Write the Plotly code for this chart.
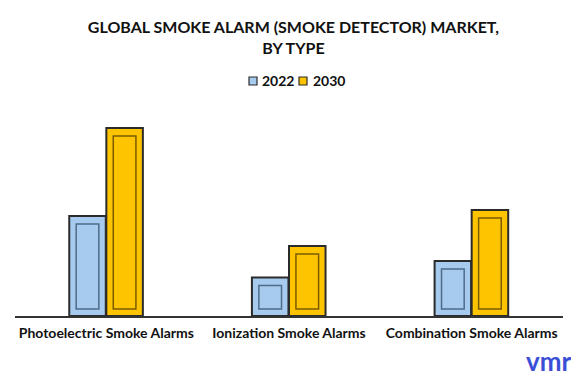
import plotly.graph_objects as go

categories = ["Photoelectric Smoke Alarms", "Ionization Smoke Alarms", "Combination Smoke Alarms"]
years = ["2022", "2030"]
values_2022 = [100, 38.5, 55]
values_2030 = [188, 70, 106]

# The page body has an 8px default margin, so the figure is sized to fit the window.
W, H = 571, 371
ML, MR, MT, MB = 7, 16, 97, 63
PW, PH = W - ML - MR, H - MT - MB

BAR_W = 0.2
INSET_X = 0.038
INSET_BOTTOM = 7
INSET_TOP = 8

series = [
    (years[0], values_2022, "#a6cbef", "#4f6b88", -0.203),
    (years[1], values_2030, "#ffc400", "#7a5c00", 0.0),
]

fig = go.Figure()
for name, vals, fill, inner_line, off in series:
    fig.add_trace(go.Bar(
        x=categories, y=vals, name=name,
        width=BAR_W, offset=off, showlegend=False,
        marker=dict(color=fill, line=dict(color="#2b2b2b", width=2)),
    ))
    fig.add_trace(go.Bar(
        x=categories, y=[v - INSET_BOTTOM - INSET_TOP for v in vals],
        base=[INSET_BOTTOM] * len(vals),
        width=BAR_W - 2 * INSET_X, offset=off + INSET_X,
        marker=dict(color=fill, line=dict(color=inner_line, width=1.5)),
        showlegend=False, hoverinfo="skip",
    ))


def px_x(p):
    return (p - ML) / PW


def px_y(p):
    return 1 - (p - MT) / PH


# custom legend (swatch + label)
legend_items = [(years[0], "#a6cbef", 241, 252), (years[1], "#ffc400", 291, 303)]
shapes = []
annotations = []
for name, fill, sx, tx in legend_items:
    shapes.append(dict(
        type="rect", xref="paper", yref="paper",
        x0=px_x(sx), x1=px_x(sx + 8), y0=px_y(77), y1=px_y(69),
        fillcolor=fill, line=dict(color="#2b2b2b", width=1.2),
    ))
    annotations.append(dict(
        text=name, x=px_x(tx), y=px_y(72.5), xref="paper", yref="paper",
        xanchor="left", yanchor="middle", showarrow=False,
        font=dict(family="Lato", size=14, color="#111111", weight="bold"),
    ))

annotations.append(dict(
    text="<b>vmr</b>", x=px_x(566), y=px_y(353), xref="paper", yref="paper",
    xanchor="right", yanchor="middle", showarrow=False,
    font=dict(family="Lato", size=26, color="#3b4fd6"),
))

fig.update_layout(
    width=W, height=H,
    barmode="overlay",
    plot_bgcolor="white", paper_bgcolor="white",
    margin=dict(l=ML, r=MR, t=MT, b=MB, autoexpand=False),
    title=dict(
        text="GLOBAL SMOKE ALARM (SMOKE DETECTOR) MARKET,<br>BY TYPE",
        x=0.5, xanchor="center", y=1 - 25 / H, yanchor="middle",
        font=dict(family="Lato", size=16, color="#111111", weight="bold"),
    ),
    showlegend=False,
    xaxis=dict(
        range=[-0.5, 2.5],
        showline=True, linecolor="#333333", linewidth=1.5,
        showgrid=False, ticks="", ticklabelstandoff=3,
        tickfont=dict(family="Lato", size=14, color="#111111", weight="bold"),
    ),
    yaxis=dict(range=[0, PH], visible=False, showgrid=False),
    shapes=shapes,
    annotations=annotations,
)

fig.write_html("out.html")
